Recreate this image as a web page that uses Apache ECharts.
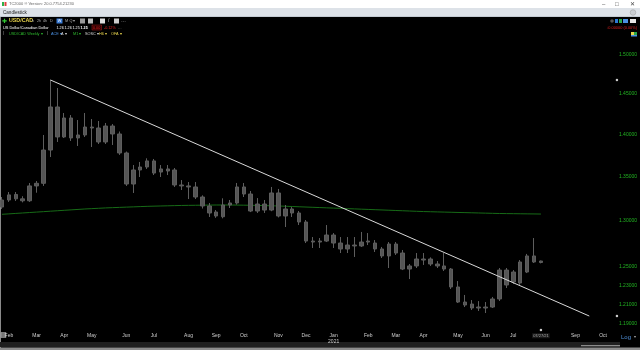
<!DOCTYPE html>
<html><head><meta charset="utf-8">
<script src="https://cdn.jsdelivr.net/npm/echarts@6/dist/echarts.min.js"></script>
<style>html,body{margin:0;padding:0;background:#000;}#c{width:640px;height:350px;}</style>
</head><body><div id="c"></div><script>
// ---- data (weekly USD/CAD bars, dated by week-ending Friday) ----
const categories = [
'2020-01-31','2020-02-07','2020-02-14','2020-02-21','2020-02-28','2020-03-06','2020-03-13','2020-03-20','2020-03-27',
'2020-04-03','2020-04-10','2020-04-17','2020-04-24','2020-05-01','2020-05-08','2020-05-15','2020-05-22','2020-05-29',
'2020-06-05','2020-06-12','2020-06-19','2020-06-26','2020-07-03','2020-07-10','2020-07-17','2020-07-24','2020-07-31',
'2020-08-07','2020-08-14','2020-08-21','2020-08-28','2020-09-04','2020-09-11','2020-09-18','2020-09-25',
'2020-10-02','2020-10-09','2020-10-16','2020-10-23','2020-10-30','2020-11-06','2020-11-13','2020-11-20','2020-11-27',
'2020-12-04','2020-12-11','2020-12-18','2020-12-25','2021-01-01','2021-01-08','2021-01-15','2021-01-22','2021-01-29',
'2021-02-05','2021-02-12','2021-02-19','2021-02-26','2021-03-05','2021-03-12','2021-03-19','2021-03-26',
'2021-04-02','2021-04-09','2021-04-16','2021-04-23','2021-04-30','2021-05-07','2021-05-14','2021-05-21','2021-05-28',
'2021-06-04','2021-06-11','2021-06-18','2021-06-25','2021-07-02','2021-07-09','2021-07-16','2021-07-23','2021-07-30',
'2021-08-06','2021-08-13','2021-08-20','2021-08-27','2021-09-03','2021-09-10','2021-09-17','2021-09-24',
'2021-10-01','2021-10-08','2021-10-15'];
const opens = [1.3157,1.3237,1.3300,1.3250,1.3228,1.3398,1.3428,1.3818,1.4339,1.3974,1.4204,1.3962,1.3998,1.4094,1.4082,1.3914,1.4106,1.4010,
1.3783,1.3420,1.3583,1.3618,1.3689,1.3559,1.3595,1.3583,1.3409,1.3398,1.3386,1.3271,1.3169,1.3056,1.3048,1.3180,1.3203,
1.3386,1.3305,1.3112,1.3191,1.3123,1.3317,1.3056,1.3135,1.3090,1.2989,1.2778,1.2767,1.2778,1.2844,1.2756,1.2691,1.2734,1.2724,
1.2767,1.2756,1.2691,1.2615,1.2745,1.2647,1.2474,1.2507,1.2582,1.2582,1.2528,1.2507,1.2474,1.2283,1.2094,1.2104,1.2063,
1.2073,1.2073,1.2157,1.2463,1.2336,1.2325,1.2442,1.2615,1.2560];
const closes = [1.3237,1.3295,1.3250,1.3228,1.3398,1.3428,1.3818,1.4339,1.3974,1.4204,1.3962,1.3998,1.4094,1.4082,1.3914,1.4106,1.4010,1.3783,
1.3420,1.3583,1.3618,1.3689,1.3547,1.3595,1.3571,1.3409,1.3398,1.3386,1.3271,1.3169,1.3090,1.3101,1.3180,1.3203,1.3386,
1.3305,1.3112,1.3191,1.3123,1.3317,1.3056,1.3135,1.3090,1.2989,1.2778,1.2767,1.2778,1.2844,1.2756,1.2691,1.2734,1.2724,1.2767,
1.2778,1.2691,1.2615,1.2745,1.2647,1.2474,1.2507,1.2582,1.2571,1.2528,1.2507,1.2474,1.2283,1.2125,1.2125,1.2063,1.2073,
1.2063,1.2157,1.2463,1.2304,1.2442,1.2550,1.2615,1.2550,1.25446];
const lows = [1.3135,1.3215,1.3226,1.3210,1.3215,1.3320,1.3398,1.3735,1.3914,1.3962,1.3926,1.3866,1.3974,1.3854,1.3890,1.3890,1.3878,1.3760,
1.3398,1.3317,1.3501,1.3595,1.3524,1.3501,1.3524,1.3386,1.3351,1.3248,1.3248,1.3140,1.3045,1.3035,1.3030,1.3146,1.3185,
1.3271,1.3100,1.3090,1.3090,1.3110,1.3040,1.2933,1.3045,1.2955,1.2756,1.2702,1.2702,1.2767,1.2702,1.2647,1.2647,1.2604,1.2713,
1.2734,1.2658,1.2593,1.2485,1.2626,1.2463,1.2367,1.2485,1.2518,1.2507,1.2485,1.2453,1.2262,1.2115,1.2073,1.2042,1.2032,
1.2011,1.2063,1.2136,1.2272,1.2315,1.2304,1.2431,1.2539,1.2535];
const highs = [1.3271,1.3328,1.3328,1.3280,1.3432,1.3455,1.3998,1.4676,1.4575,1.4265,1.4240,1.4179,1.4265,1.4191,1.4167,1.4143,1.4130,1.4040,
1.3800,1.3641,1.3677,1.3720,1.3712,1.3641,1.3641,1.3606,1.3466,1.3443,1.3443,1.3290,1.3203,1.3123,1.3256,1.3237,1.3432,
1.3432,1.3340,1.3259,1.3237,1.3386,1.3363,1.3180,1.3157,1.3112,1.3011,1.2822,1.2811,1.2955,1.2866,1.2822,1.2822,1.2822,1.2878,
1.2866,1.2789,1.2713,1.2767,1.2767,1.2680,1.2528,1.2647,1.2647,1.2600,1.2560,1.2647,1.2485,1.2346,1.2199,1.2146,1.2135,
1.2125,1.2178,1.2485,1.2485,1.2463,1.2571,1.2637,1.2811,1.2565];
const maValues = [1.3075,1.3080,1.3085,1.3090,1.3095,1.3100,1.3105,1.3110,1.3115,1.3120,1.3125,1.3130,1.3135,1.3139,1.3143,
1.3147,1.3150,1.3153,1.3156,1.3159,1.3162,1.3165,1.3167,1.3169,1.3171,1.3173,1.3175,1.3176,1.3177,1.3178,1.3179,1.3180,1.3180,1.3180,
1.3179,1.3178,1.3177,1.3175,1.3173,1.3171,1.3169,1.3166,1.3163,1.3160,1.3157,1.3154,1.3151,1.3148,1.3145,1.3142,1.3139,1.3136,1.3133,
1.3130,1.3127,1.3124,1.3121,1.3118,1.3115,1.3112,1.3109,1.3106,1.3104,1.3102,1.3100,1.3098,1.3096,1.3094,1.3092,1.3090,1.3088,1.3086,
1.3084,1.3083,1.3082,1.3081,1.3080,1.3079,1.3078];
const trendIdx = [7, 85];
const trendPrices = [1.4676, 1.1980];
const yTicks = [1.50, 1.45, 1.40, 1.35, 1.30, 1.25, 1.23, 1.21, 1.19];
const priceRange = [1.1837, 1.5189];
const monthNames = ['Jan','Feb','Mar','Apr','May','Jun','Jul','Aug','Sep','Oct','Nov','Dec'];
const lastBarLabel = '07/27/21';

// ---- build ----
const L = Math.log;
const FONT = 'Liberation Sans, Arial, sans-serif';
const lastIdx = closes.length - 1;
const candleData = opens.map((o, i) => [L(o), L(closes[i]), L(lows[i]), L(highs[i])]);
const maData = maValues.map(L);
const trendData = trendIdx.map((x, i) => [x, L(trendPrices[i])]);
const axisDots = [[categories.length - 1, L(trendPrices[0])], [categories.length - 1, L(trendPrices[1])], [lastIdx, L(priceRange[0])]];
function monthStart(i) { return i > 0 && categories[i].slice(5, 7) !== categories[i - 1].slice(5, 7); }

function T(x, y, text, fill, size, extra) {
  return { type: 'text', x: x, y: y, style: Object.assign({ text: text, fill: fill, fontSize: size || 4.5, fontFamily: FONT, verticalAlign: 'middle' }, extra || {}) };
}
function R(x, y, w, h, fill, extra) {
  return { type: 'rect', shape: { x: x, y: y, width: w, height: h }, style: Object.assign({ fill: fill }, extra || {}) };
}

const chrome = [
  R(0, 0, 640, 8, '#ffffff'),
  R(2, 2, 2, 4, '#2fb24a'), R(4.5, 2, 2, 4, '#e04040'),
  T(9, 4, 'TC2000 \u00ae Version: 20.0.7754.21230', '#666', 4.0),
  T(602, 4, '\u2013', '#444', 6), T(615, 4, '\u25a1', '#444', 6), T(630, 4, '\u2715', '#444', 5.5),
  R(0, 8, 640, 9, '#dde2e8'), R(0, 16.5, 640, 0.6, '#aab2bc'),
  T(3, 12.5, 'Candlestick', '#222', 4.6),
  { type: 'circle', shape: { cx: 633, cy: 12.5, r: 2.8 }, style: { fill: '#c9cdd2', stroke: '#999', lineWidth: 0.5 } },
  // row 1
  T(1.5, 21, '\u271a', '#33cc33', 6),
  T(9, 21, 'USD/CAD', '#e8d44d', 5.3, { fontWeight: 'bold' }),
  T(32, 21, 'h', '#aaa', 3.8), T(37, 21, '2h', '#aaa', 3.8), T(43, 21, '4h', '#aaa', 3.8), T(50, 21, 'D', '#aaa', 3.8),
  R(56.5, 18.5, 6, 5, '#3a7bd5'), T(57.7, 21, 'W', '#fff', 3.8),
  T(65, 21, 'M', '#aaa', 3.8), T(69.5, 21, 'Q', '#aaa', 3.8), T(73, 21, '\u25be', '#aaa', 3.8),
  R(80, 18.5, 5, 5, '#9a9a9a'), R(88, 18.5, 5, 5, '#bbbbbb'), R(100, 18.5, 5, 5, '#dddddd'),
  T(108, 21, '/', '#ccc', 5), R(114, 18.5, 5, 5, '#cccccc'), T(121, 21, '\u2026', '#ccc', 5),
  { type: 'circle', shape: { cx: 612, cy: 21, r: 1.8 }, style: { fill: '#555' } },
  R(615, 19, 3, 4, '#2e7bd6'), R(619, 19, 3, 4, '#2aa84a'), R(623, 19, 5, 4, '#4a90e2'), R(630, 19, 6, 4, '#e6e6e6'),
  // row 2
  T(3, 27.5, 'US Dollar/Canadian Dollar', '#ffffff', 3.9),
  T(56.5, 27.5, '1.26', '#fff', 3.7), T(64.5, 27.5, '1.26', '#fff', 3.7), T(72.5, 27.5, '1.25', '#fff', 3.7),
  T(80.5, 27.5, '1.25', '#fff', 3.7, { fontWeight: 'bold' }),
  R(92, 25, 9.5, 5, '#2a0000', { stroke: '#aa1a1a', lineWidth: 0.5 }), T(93, 27.5, '0.00', '#e02020', 3.7),
  T(104, 27.5, '-0.12%', '#e02020', 3.7), T(118, 27.5, '\u2026', '#888', 3.7),
  T(637, 27.5, '\u21930.00000 (0.00%)', '#e02020', 3.9, { align: 'right' }),
  // row 3
  T(3, 34, '\u205e', '#ddd', 5),
  T(9, 34, 'USD/CAD Weekly \u25be', '#2db82d', 3.8),
  T(47, 34, '\u205e', '#ddd', 5),
  T(51, 34, 'ACE \u25be', '#4a90e2', 3.8), T(61, 34, 'A \u25be', '#ddd', 3.8),
  T(73, 34, 'M1 \u25be', '#2db82d', 3.8), T(85, 34, 'SOSC \u25be', '#ddd', 3.8),
  T(99, 34, 'H6 \u25be', '#e8d44d', 3.8), T(111, 34, 'OFA \u25be', '#e8d44d', 3.8),
  R(631, 32, 3, 3, '#e8d44d'), R(634, 32, 3, 3, '#2aa84a'), R(631, 35, 6, 1.5, '#4a90e2'),
  // frame & bottom
  R(0, 17, 1, 331, '#8a8a8a'),
  R(1, 332.5, 5, 5, '#777', { stroke: '#bbb', lineWidth: 0.5 }),
  T(621, 337.5, 'Log', '#4f8fd6', 6),
  T(634, 337, '\u25be', '#aaa', 4),
  R(0, 342, 620, 5, '#1f1f1f'), R(581, 345, 39, 1.2, '#8a8a8a'),
  R(0, 347.5, 640, 2.5, '#8c8c8c')
];

const option = {
  animation: false,
  backgroundColor: '#000',
  grid: { left: 2, right: 20, top: 40, bottom: 20, containLabel: false },
  xAxis: {
    type: 'category', data: categories, boundaryGap: false,
    axisLine: { show: false }, axisTick: { show: false }, splitLine: { show: false },
    axisLabel: {
      color: '#cfcfcf', fontSize: 5, fontFamily: FONT, margin: 3, lineHeight: 5.5,
      interval: (i) => (monthStart(i) && i !== lastIdx + 1) || i === lastIdx,
      formatter: (val, i) => {
        if (i === lastIdx) return '{d|' + lastBarLabel + '}';
        const m = +val.slice(5, 7);
        return m === 1 ? monthNames[0] + '\n' + val.slice(0, 4) : monthNames[m - 1];
      },
      rich: { d: { fontSize: 4, color: '#aaa', backgroundColor: '#1a1a1a', padding: [0.5, 1], fontFamily: FONT } }
    }
  },
  yAxis: {
    type: 'value', position: 'right', min: L(priceRange[0]), max: L(priceRange[1]),
    axisLine: { show: false }, axisTick: { show: false }, splitLine: { show: false },
    axisLabel: {
      customValues: yTicks.map(L),
      formatter: (v) => Math.exp(v).toFixed(5),
      color: '#22b422', fontSize: 5, fontFamily: FONT, margin: 2
    }
  },
  series: [
    {
      type: 'line', data: maData, showSymbol: false, symbol: 'none', z: 1,
      lineStyle: { color: '#176b17', width: 1 }, silent: true
    },
    {
      type: 'candlestick', data: candleData, barWidth: 4, clip: false, z: 2,
      itemStyle: { color: '#555555', color0: '#555555', borderColor: '#5e5e5e', borderColor0: '#5e5e5e', borderWidth: 1 },
      markLine: {
        symbol: 'none', silent: true, animation: false,
        lineStyle: { opacity: 0 },
        label: {
          position: 'end', distance: 1, formatter: () => closes[lastIdx].toFixed(5),
          color: '#fff', backgroundColor: '#151515', borderColor: '#888', borderWidth: 0.5,
          padding: [1, 1, 0.5, 1], fontSize: 5, fontFamily: FONT
        },
        data: [{ yAxis: L(closes[lastIdx]) }]
      }
    },
    {
      type: 'line', data: trendData, showSymbol: false, symbol: 'none', z: 3,
      lineStyle: { color: '#d9d9d9', width: 1 }, silent: true
    },
    {
      type: 'scatter', data: axisDots, symbolSize: 2.5, clip: false, z: 4,
      itemStyle: { color: '#ffffff' }, silent: true
    }
  ],
  graphic: { elements: chrome }
};
const chart = echarts.init(document.getElementById('c'), null, { renderer: 'canvas' });
chart.setOption(option);
</script></body></html>
